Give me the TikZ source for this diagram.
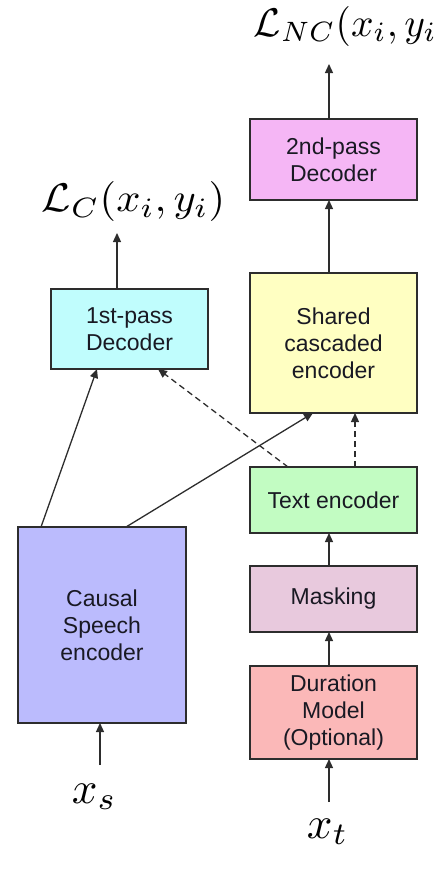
\documentclass[tikz,border=0pt]{standalone}
\usepackage{fontspec}
\newfontfamily\lblfont{Liberation Sans}
\usetikzlibrary{arrows.meta}
\definecolor{cDecTwo}{RGB}{245,182,245}
\definecolor{cDecOne}{RGB}{192,253,253}
\definecolor{cShared}{RGB}{255,255,194}
\definecolor{cText}{RGB}{194,252,194}
\definecolor{cMask}{RGB}{232,201,221}
\definecolor{cDur}{RGB}{251,184,184}
\definecolor{cCausal}{RGB}{187,187,253}
\definecolor{cLine}{RGB}{45,45,45}
\definecolor{cTxt}{RGB}{25,25,35}
\begin{document}
\begin{tikzpicture}[x=1pt,y=-1pt,
  blk/.style={draw=cLine,line width=1.2pt,inner sep=0pt,outer sep=0pt,
    text=cTxt,align=center,font=\lblfont\fontsize{23}{27}\selectfont},
  arr/.style={draw=cLine,line width=1.3pt,-{Triangle[length=9pt,width=8pt]}},
  darr/.style={arr,dash pattern=on 6pt off 4pt},
  mth/.style={inner sep=0pt,scale=4.5},
  loss/.style={inner sep=0pt,xscale=4.25,yscale=4.0}]
\useasboundingbox (0,0) rectangle (438,870);
% boxes
\node[blk,fill=cDecTwo,minimum width=167pt,minimum height=81pt] (dec2) at (333.5,159.5) {2nd-pass\\Decoder};
\node[blk,fill=cDecOne,minimum width=157pt,minimum height=80pt] (dec1) at (129.5,329) {1st-pass\\Decoder};
\node[blk,fill=cShared,minimum width=167pt,minimum height=140pt] (shared) at (333.5,343) {Shared\\cascaded\\encoder};
\node[blk,fill=cText,minimum width=167pt,minimum height=66pt] (text) at (333.5,500) {Text encoder};
\node[blk,fill=cMask,minimum width=167pt,minimum height=66pt] (mask) at (333.5,599) {Masking};
\node[blk,fill=cDur,minimum width=167pt,minimum height=93pt] (dur) at (333.5,712.5) {Duration\\Model\\(Optional)};
\node[blk,fill=cCausal,minimum width=168pt,minimum height=196pt] (causal) at (102,625) {Causal\\Speech\\encoder};
% math labels
\node[loss,xscale=0.93,anchor=base west] (lnc) at (253,36) {$\mathcal{L}_{NC}(x_i,y_i$};
\node[loss,anchor=base west] (lc) at (41,211) {$\mathcal{L}_{C}(x_i,y_i)$};
\node[mth,anchor=base west] (xs) at (71,803) {$x_s$};
\node[mth,anchor=base west] (xt) at (306,838) {$x_t$};
% free ends
\coordinate (lncIn) at (329,64);
\coordinate (lcIn) at (117,233);
\coordinate (xsOut) at (100,765);
\coordinate (xtOut) at (329,802);
% connectors
\draw[arr] ([xshift=79pt]dec2.north west) -- (lncIn);
\draw[arr] ([xshift=79pt]shared.north west) -- ([xshift=79pt]dec2.south west);
\draw[arr] ([xshift=66pt]dec1.north west) -- (lcIn);
\draw[arr] ([xshift=23pt]causal.north west) -- ([xshift=46pt]dec1.south west);
\draw[arr] ([xshift=108pt]causal.north west) -- ([xshift=63pt]shared.south west);
\draw[darr] ([xshift=38pt]text.north west) -- ([xshift=107pt]dec1.south west);
\draw[darr] ([xshift=105pt]text.north west) -- ([xshift=105pt]shared.south west);
\draw[arr] ([xshift=79pt]mask.north west) -- ([xshift=79pt]text.south west);
\draw[arr] ([xshift=79pt]dur.north west) -- ([xshift=79pt]mask.south west);
\draw[arr] (xtOut) -- (dur.south -| xtOut);
\draw[arr] (xsOut) -- (causal.south -| xsOut);
\end{tikzpicture}
\end{document}
